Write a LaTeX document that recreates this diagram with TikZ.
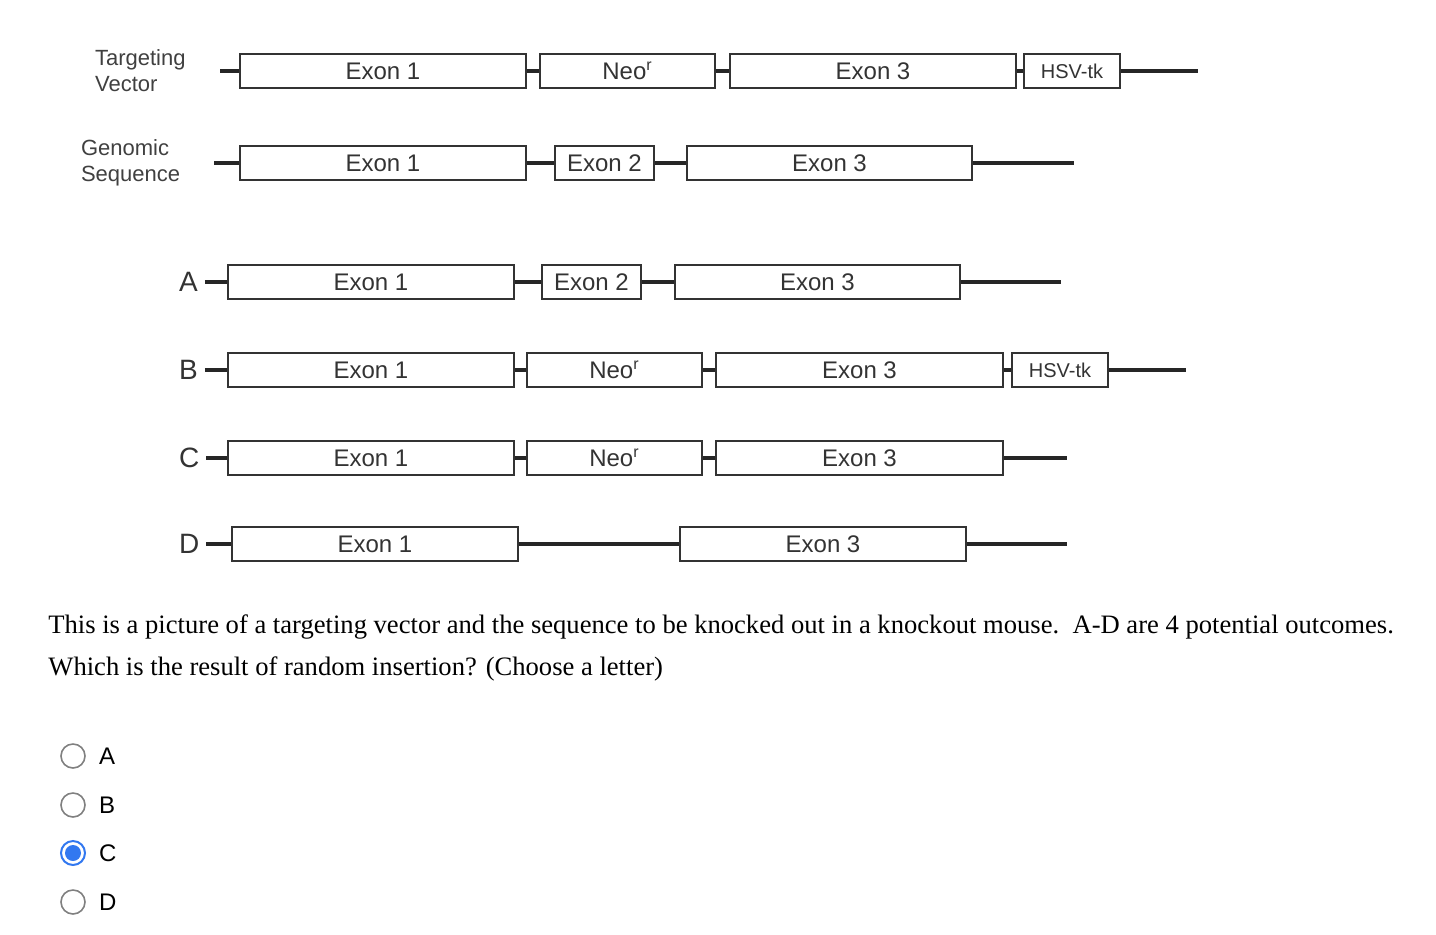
\documentclass[tikz,border=0pt]{standalone}
\usepackage{fontspec}
\setmainfont{Liberation Serif}
\setsansfont{Liberation Sans}
\definecolor{rblue}{RGB}{50,120,240}
\begin{document}
\begin{tikzpicture}[x=0.5pt,y=-0.5pt,
  ex/.style={draw=black!80,line width=1pt,minimum height=17pt,inner sep=0pt,font=\sffamily\fontsize{12}{12}\selectfont,text=black!80},
  ln/.style={line width=1.6pt,black!85},
  lab/.style={font=\sffamily\fontsize{11}{13}\selectfont,text=black!75,align=left,anchor=west},
  rb/.style={circle,draw=gray,line width=0.8pt,minimum size=12pt,inner sep=0pt},
  rl/.style={font=\sffamily\fontsize{12}{12}\selectfont,anchor=west}]
\useasboundingbox (0,0) rectangle (1436,934);
\newcommand{\bx}[5]{\node[ex,minimum width={(#3-#2)*0.5pt}] (#1) at ({(#2+#3)/2},#4) {#5};}
\newcommand{\ndr}{\textsuperscript{r}}
% Targeting vector
\node[lab] (tv) at (88,71) {Targeting\\Vector};
\bx{t1}{240}{526}{71}{Exon 1}
\bx{t2}{540}{715}{71}{Neo\ndr}
\bx{t3}{730}{1016}{71}{Exon 3}
\bx{t4}{1024}{1120}{71}{\fontsize{10}{10}\selectfont HSV-tk}
\coordinate (ts) at (220,71); \coordinate (te) at (1198,71);
\draw[ln] (ts)--(t1.west) (t1.east)--(t2.west) (t2.east)--(t3.west) (t3.east)--(t4.west) (t4.east)--(te);
% Genomic
\node[lab] (gs) at (74,163) {Genomic\\Sequence};
\bx{g1}{240}{526}{163}{Exon 1}
\bx{g2}{555}{654}{163}{Exon 2}
\bx{g3}{687}{972}{163}{Exon 3}
\coordinate (gst) at (214,163); \coordinate (ge) at (1074,163);
\draw[ln] (gst)--(g1.west) (g1.east)--(g2.west) (g2.east)--(g3.west) (g3.east)--(ge);
% A
\node[rl,font=\sffamily\fontsize{14}{14}\selectfont,text=black!80] (la) at (172,282) {A};
\bx{a1}{228}{514}{282}{Exon 1}
\bx{a2}{542}{641}{282}{Exon 2}
\bx{a3}{675}{960}{282}{Exon 3}
\coordinate (ae) at (1061,282);
\draw[ln] (la.east)--(a1.west) (a1.east)--(a2.west) (a2.east)--(a3.west) (a3.east)--(ae);
% B
\node[rl,font=\sffamily\fontsize{14}{14}\selectfont,text=black!80] (lb) at (172,370) {B};
\bx{b1}{228}{514}{370}{Exon 1}
\bx{b2}{527}{702}{370}{Neo\ndr}
\bx{b3}{716}{1003}{370}{Exon 3}
\bx{b4}{1012}{1108}{370}{\fontsize{10}{10}\selectfont HSV-tk}
\coordinate (be) at (1186,370);
\draw[ln] (lb.east)--(b1.west) (b1.east)--(b2.west) (b2.east)--(b3.west) (b3.east)--(b4.west) (b4.east)--(be);
% C
\node[rl,font=\sffamily\fontsize{14}{14}\selectfont,text=black!80] (lc) at (172,458) {C};
\bx{c1}{228}{514}{458}{Exon 1}
\bx{c2}{527}{702}{458}{Neo\ndr}
\bx{c3}{716}{1003}{458}{Exon 3}
\coordinate (ce) at (1067,458);
\draw[ln] (lc.east)--(c1.west) (c1.east)--(c2.west) (c2.east)--(c3.west) (c3.east)--(ce);
% D
\node[rl,font=\sffamily\fontsize{14}{14}\selectfont,text=black!80] (ld) at (172,544) {D};
\bx{d1}{232}{518}{544}{Exon 1}
\bx{d3}{680}{966}{544}{Exon 3}
\coordinate (de) at (1067,544);
\draw[ln] (ld.east)--(d1.west) (d1.east)--(d3.west) (d3.east)--(de);
% question
\node[anchor=base west,inner sep=0pt,font=\fontsize{13.3}{13.3}\selectfont] (q1) at (48,633) {This is a picture of a targeting vector and the sequence to be knocked out in a knockout mouse.\ \ A-D are 4 potential outcomes.};
\node[anchor=base west,inner sep=0pt,font=\fontsize{13.3}{13.3}\selectfont] (q2) at (48,675) {Which is the result of random insertion? (Choose a letter)};
% radios
\node[rb] (ra) at (73,756) {}; \node[rl] (ta) at (92,756) {A};
\node[rb] (rbb) at (73,805) {}; \node[rl] (tb) at (92,805) {B};
\node[rb,draw=rblue,line width=1pt] (rc) at (73,853) {};
\fill[rblue] (rc.center) circle (8);
\node[rl] (tc) at (92,853) {C};
\node[rb] (rd) at (73,902) {}; \node[rl] (td) at (92,902) {D};
\end{tikzpicture}
\end{document}
